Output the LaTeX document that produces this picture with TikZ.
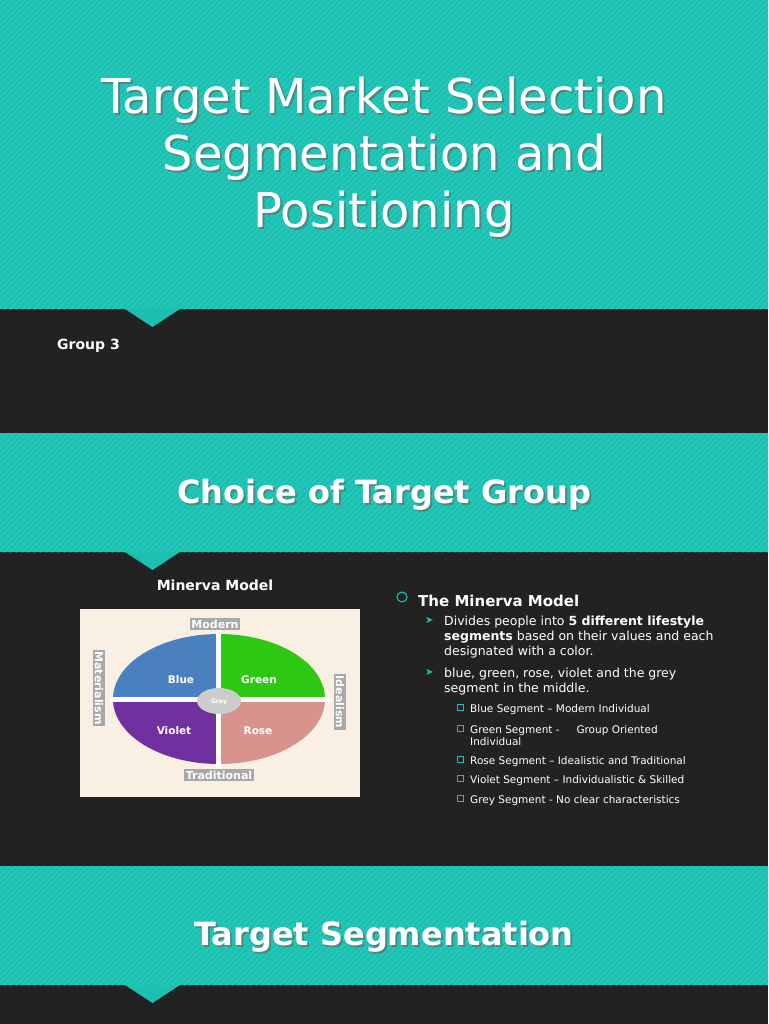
\documentclass[tikz,border=0pt]{standalone}
\usepackage{fontspec}
\setmainfont{DejaVu Sans}
\definecolor{teal1}{HTML}{1CBFB0}
\definecolor{teal2}{HTML}{24C8B9}
\definecolor{dark}{HTML}{222222}
\definecolor{mblue}{HTML}{4A7FC0}
\definecolor{mgreen}{HTML}{2EC714}
\definecolor{mviolet}{HTML}{7030A0}
\definecolor{mrose}{HTML}{D9938F}
\definecolor{beige}{HTML}{F9EFE3}
\definecolor{lbl}{HTML}{A8A8A8}
\definecolor{bul}{HTML}{1CBFB0}
\begin{document}
\begin{tikzpicture}[x=1pt,y=-1pt,
  wtxt/.style={text=white,align=center},
  shadowtxt/.style={text=black!60,align=center,opacity=0.6},
  tag/.style={fill=lbl,text=white,font=\bfseries\fontsize{11}{12}\selectfont,inner sep=1.5pt},
  qtxt/.style={text=white,font=\bfseries\fontsize{10.5}{12}\selectfont},
  l2/.style={text=white,anchor=north west,align=left,font=\fontsize{12.5}{15}\selectfont,inner sep=0},
  l3/.style={text=white,anchor=north west,align=left,font=\fontsize{10.5}{12.5}\selectfont,inner sep=0},
  arr/.style={text=bul,font=\fontsize{10}{10}\selectfont,anchor=north west,inner sep=0},
  box/.style={draw=bul,line width=1pt,fill=dark,minimum size=6pt,inner sep=0}
]
\useasboundingbox (0,0) rectangle (768,1024);
\fill[dark] (0,0) rectangle (768,1024);
% bands
\foreach \a/\b in {0/309,433/552,866/985}{
  \fill[teal1] (0,\a) rectangle (768,\b);
  \fill[teal1] (125,\b) -- (180,\b) -- (152.5,\b+18) -- cycle;
  \begin{scope}
  \clip (0,\a) rectangle (768,\b);
  \foreach \s in {-320,-314,...,780}{
    \draw[teal2,line width=2pt] (\s,\b) -- (\s+320,\b-320);
  }
  \end{scope}
}
% title
\node[shadowtxt,font=\fontsize{48}{57}\selectfont] at (386,159) {Target Market Selection\\Segmentation and\\Positioning};
\node[wtxt,font=\fontsize{48}{57}\selectfont] (title) at (384,157) {Target Market Selection\\Segmentation and\\Positioning};
\node[text=white,font=\bfseries\fontsize{14}{16}\selectfont,anchor=west,inner sep=0] (grp) at (57,346) {Group 3};
\node[shadowtxt,font=\bfseries\fontsize{32}{36}\selectfont] at (386,497) {Choice of Target Group};
\node[wtxt,font=\bfseries\fontsize{32}{36}\selectfont] (choice) at (384,495) {Choice of Target Group};
\node[shadowtxt,font=\bfseries\fontsize{32}{36}\selectfont] at (386,939) {Target Segmentation};
\node[wtxt,font=\bfseries\fontsize{32}{36}\selectfont] (seg) at (384,937) {Target Segmentation};
% Minerva image
\node[text=white,font=\bfseries\fontsize{14}{16}\selectfont] (mm) at (215,585) {Minerva Model};
\fill[beige] (80,609) rectangle (360,797);
\begin{scope}
\clip (219,699) ellipse (106 and 65);
\fill[mblue] (100,620) rectangle (219,699);
\fill[mgreen] (219,620) rectangle (340,699);
\fill[mviolet] (100,699) rectangle (219,780);
\fill[mrose] (219,699) rectangle (340,780);
\end{scope}
\fill[white] (216,630) rectangle (221,770);
\fill[white] (110,697) rectangle (330,702);
\fill[lightgray!80] (219,701) ellipse (22 and 13);
\node[text=white,font=\bfseries\fontsize{6}{7}\selectfont] (grey) at (219,702) {Grey};
\node[qtxt] (blue) at (181,680) {Blue};
\node[qtxt] (green) at (259,680) {Green};
\node[qtxt] (violet) at (174,731) {Violet};
\node[qtxt] (rose) at (258,731) {Rose};
\node[tag] (modern) at (215,624) {Modern};
\node[tag] (trad) at (219,775) {Traditional};
\node[tag,rotate=-90] (mat) at (99,688) {Materialism};
\node[tag,rotate=-90] (ide) at (340,702) {Idealism};
% bullets
\draw[bul,line width=1.1pt] (402,597) circle (5);
\node[text=white,font=\bfseries\fontsize{15}{17}\selectfont,anchor=west,inner sep=0] (tmm) at (418,601) {The Minerva Model};
\node[arr] at (425,617) {➤};
\node[l2] (b1) at (444,616) {Divides people into \textbf{5 different lifestyle}\\\textbf{segments} based on their values and each\\designated with a color.};
\node[arr] at (425,669) {➤};
\node[l2] (b2) at (444,668) {blue, green, rose, violet and the grey\\segment in the middle.};
\foreach \y/\t in {704/Blue Segment – Modern Individual,
 756/Rose Segment – Idealistic and Traditional,
 775/Violet Segment – Individualistic \& Skilled,
 795/Grey Segment - No clear characteristics}{
  \node[box] at (460,\y+3) {};
  \node[l3] at (470,\y) {\t};
}
\node[box] at (460,728) {};
\node[l3] (g) at (470,725) {Green Segment -\hspace{1.6em}Group Oriented\\Individual};
\end{tikzpicture}
\end{document}
